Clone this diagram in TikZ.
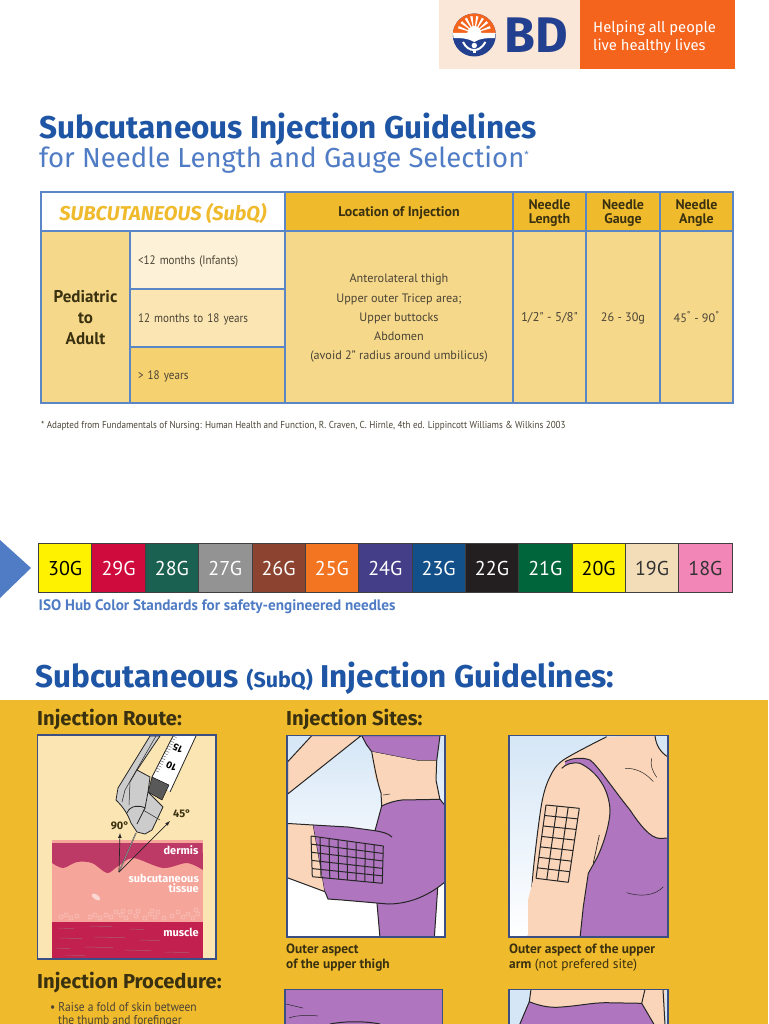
\documentclass[tikz,border=0pt]{standalone}
\usepackage{fontspec}
\setmainfont{Fira Sans}
\newfontfamily\narrowfont{PT Sans}
\newfontfamily\condfont[FakeStretch=0.9]{PT Sans}
\usetikzlibrary{calc}
\definecolor{bandgold}{HTML}{F0BA2D}
\definecolor{tblblue}{HTML}{5B86C6}
\definecolor{cellbody}{HTML}{F6D88B}
\definecolor{cellone}{HTML}{FDF2D7}
\definecolor{celltwo}{HTML}{FBE5B3}
\definecolor{cellthree}{HTML}{F5D16F}
\definecolor{titleblue}{HTML}{1F55A5}
\definecolor{subblue}{HTML}{4F7CC4}
\definecolor{bdorange}{HTML}{F4641D}
\definecolor{bdpeach}{HTML}{FBE7D8}
\definecolor{bdblue}{HTML}{22408F}
\definecolor{inkdark}{HTML}{3A3110}
\definecolor{bodyink}{HTML}{4A4436}
\definecolor{framblue}{HTML}{3B4F85}
\definecolor{skin}{HTML}{FBD5BA}
\definecolor{suit}{HTML}{AF75BF}
\definecolor{skyblue}{HTML}{D5E6F6}
\definecolor{dermis}{HTML}{BE3A66}
\definecolor{subtissue}{HTML}{F6A59A}
\definecolor{musclered}{HTML}{C2204F}
\definecolor{g30}{HTML}{FFF200}
\definecolor{g29}{HTML}{CF0A3C}
\definecolor{g28}{HTML}{1B6152}
\definecolor{g27}{HTML}{939393}
\definecolor{g26}{HTML}{8C4430}
\definecolor{g25}{HTML}{F47521}
\definecolor{g24}{HTML}{433E87}
\definecolor{g23}{HTML}{13508A}
\definecolor{g22}{HTML}{231F20}
\definecolor{g21}{HTML}{00653A}
\definecolor{g19}{HTML}{F2DDB8}
\definecolor{g18}{HTML}{F287B7}
\newcommand{\fsz}[1]{\fontsize{#1}{#1}\selectfont}
\tikzset{
  cell/.style={draw=tblblue,line width=2pt,outer sep=0pt,anchor=north west,inner sep=0pt,align=center,text=bodyink,text depth=0pt,font=\narrowfont\fsz{12.2}},
  headcell/.style={cell,fill=bandgold,text=inkdark,font=\narrowfont\bfseries\fsz{13.9}},
  rowcell/.style={cell,minimum width=155pt,minimum height=58pt,text width=139pt,align=left,font=\condfont\fsz{12.3}},
  gaugecell/.style={draw=black!75,line width=.8pt,outer sep=0pt,anchor=north west,minimum width=53.4pt,minimum height=49pt,inner sep=0pt,font=\narrowfont\fsz{20}},
  heading/.style={anchor=west,inner sep=0pt,text=inkdark,font=\bfseries\fsz{20.2}},
  caption/.style={anchor=west,inner sep=0pt,text=inkdark,font=\narrowfont\fsz{13.4}},
  outline/.style={draw=black!85,line width=1pt},
  framed/.style={draw=framblue,line width=1.3pt},
  arrowline/.style={draw=black!85,line width=.7pt,-latex},
  layerlabel/.style={inner sep=0pt,text=white,font=\bfseries\fsz{11}}
}
\begin{document}
\begin{tikzpicture}[x=1pt,y=-1pt]
  \useasboundingbox (0,0) rectangle (768,1024);
  \fill[white] (0,0) rectangle (768,1024);

  % logo
  \fill[bdpeach] (439,0) rectangle (580,69);
  \fill[bdorange] (580,0) rectangle (735,69);
  \fill[bdblue] (474.3,35) circle (21.5);
  \begin{scope}
    \clip (450,10) rectangle (500,33);
    \fill[bdorange] (474.3,35) circle (21.5);
    \foreach \a in {-160,-140,...,-20}
      \fill[white] (474.3,33) -- ++(\a-4:17) -- ++(\a+90:2.4) -- cycle;
    \fill[white] (474.3,33) circle (7);
  \end{scope}
  \fill[white] (453,33) -- (495.6,33) -- (495,38) .. controls (488,38) and (480,38) .. (474.3,42) .. controls (468,38) and (460,38) .. (453.5,38) -- cycle;
  \draw[white,line width=2pt] (463,42) .. controls (466,48) and (470,50) .. (474.3,50) .. controls (478,50) and (482,48) .. (485.5,42);
  \draw[white,line width=3pt] (474.3,49) -- (474.3,53);
  \fill[white] (474.3,45.5) circle (2.7);
  \node[inner sep=0pt,text=bdblue,font=\bfseries\fsz{50}] (bd) at (536,35.5) {BD};
  \node[anchor=west,inner sep=0pt,text=white,align=left,font=\fsz{14.8}] (motto) at (593,37) {Helping all people\\[3.5pt]live healthy lives};

  % titles
  \node[anchor=base west,inner sep=0pt,text=titleblue,font=\bfseries\fsz{31.5}] (title) at (39,139) {Subcutaneous Injection Guidelines};
  \node[anchor=base west,inner sep=0pt,text=subblue,font=\fsz{27.5}] (subtitle) at (39,168) {for Needle Length and Gauge Selection\raisebox{9pt}{\fsz{10}*}};

  % table
  \node[cell,minimum width=244pt,minimum height=39pt,fill=white,text=bandgold,font=\bfseries\itshape\fsz{20}] (subq) at (41,192) {SUBCUTANEOUS (SubQ)};
  \node[headcell,minimum width=228pt,minimum height=39pt] (location) at (285,192) {Location of Injection};
  \node[headcell,minimum width=73pt,minimum height=39pt] (length) at (513,192) {Needle\\[.2pt]Length};
  \node[headcell,minimum width=74pt,minimum height=39pt] (gauge) at (586,192) {Needle\\[.2pt]Gauge};
  \node[headcell,minimum width=73pt,minimum height=39pt] (angle) at (660,192) {Needle\\[.2pt]Angle};
  \node[cell,minimum width=89pt,minimum height=172pt,fill=cellbody,text=inkdark,font=\narrowfont\bfseries\fsz{17}] (pediatric) at (41,231) {Pediatric\\[4pt]to\\[4pt]Adult};
  \node[rowcell,fill=cellone] (infants) at (130,231) {<12 months (Infants)};
  \node[rowcell,fill=celltwo] (toddlers) at (130,289) {12 months to 18 years};
  \node[rowcell,fill=cellthree,minimum height=56pt] (adults) at (130,347) {> 18 years};
  \node[cell,fill=cellbody,minimum width=228pt,minimum height=172pt] (sites) at (285,231) {Anterolateral thigh\\[7pt]Upper outer Tricep area;\\[7pt]Upper buttocks\\[7pt]Abdomen\\[7pt](avoid 2” radius around umbilicus)};
  \node[cell,fill=cellbody,minimum width=73pt,minimum height=172pt,font=\narrowfont\fsz{12.8}] (lengthval) at (513,231) {1/2" - 5/8"};
  \node[cell,fill=cellbody,minimum width=74pt,minimum height=172pt] (gaugeval) at (586,231) {26 - 30g};
  \node[cell,fill=cellbody,minimum width=73pt,minimum height=172pt] (angleval) at (660,231) {45\textsuperscript{°} - 90\textsuperscript{°}};
  \node[anchor=west,inner sep=0pt,text=bodyink,font=\condfont\fsz{10.1}] (source) at (41,425.5) {* Adapted from Fundamentals of Nursing: Human Health and Function, R. Craven, C. Hirnle, 4th ed. Lippincott Williams \& Wilkins 2003};

  % gauge strip
  \fill[subblue] (0,540) -- (31,568) -- (0,598) -- cycle;
  \foreach \g/\col/\ink [count=\i from 0] in {30G/g30/black,29G/g29/white,28G/g28/white,27G/g27/white,26G/g26/white,25G/g25/white,24G/g24/white,23G/g23/white,22G/g22/white,21G/g21/white,20G/g30/black,19G/g19/black!80,18G/g18/black!80}
    \node[gaugecell,fill=\col,text=\ink] (hub\g) at (38.5+\i*53.35,543.5) {\g};
  \node[anchor=west,inner sep=0pt,text=subblue,font=\narrowfont\bfseries\fsz{15.2}] (iso) at (38.5,606.5) {ISO Hub Color Standards for safety-engineered needles};

  \node[anchor=base west,inner sep=0pt,text=titleblue,font=\bfseries\fsz{31.5}] (guide) at (35,687) {Subcutaneous {\fsz{21.5}(SubQ)} Injection Guidelines:};
  \fill[bandgold] (0,700) rectangle (768,1024);

  \node[heading] (route) at (37,720) {Injection Route:};
  \node[heading] (sitesh) at (286,720) {Injection Sites:};
  \node[heading] (proc) at (37,983) {Injection Procedure:};
  \node[anchor=north west,inner sep=0pt,text=bodyink,align=left,font=\condfont\fsz{12.8}] (bullet) at (50,1002) {• Raise a fold of skin between\\[.2pt]\hspace{8pt}the thumb and forefinger};

  % route panel
  \fill[celltwo] (37.5,735) rectangle (216,959);
  \fill[subtissue] (52,840) rectangle (202.6,923);
  \fill[dermis] (52,843) -- (202.6,843) -- plot[smooth] coordinates {(203,870) (187,863) (163,868) (133,858) (117,867) (107,873) (92,863) (77,862) (63,868) (52,863)} -- cycle;
  \foreach \x/\y in {61/917,66/915,71/918,77/916,90/917,95/915,100/918,106/915,111/917,116/912,121/915,126/918,123/911,130/912,136/916,138/911,145/918,150/914,155/917,152/911,158/912,164/918,172/916,178/912,183/917,188/914,193/918,198/914,196/910}
    \draw[subtissue!65!white,fill=subtissue!95!white,line width=.4pt] (\x,\y) circle (2.2);
  \fill[white!55!subtissue,rotate around={-35:(96,897)}] (96,897) ellipse (5 and 2.5);
  \fill[musclered] (52,922) rectangle (202.6,958);
  \foreach \x/\y/\w in {58/928/16,90/926/22,130/929/14,60/938/22,95/937/30,140/940/20,56/948/14,85/947/28,125/950/26,165/952/24,65/955/20}
    \draw[black!30!musclered!70,line width=.5pt] (\x,\y) -- ++(\w,.6);
  % syringe
  \fill[white] (173,736) -- (196,736) -- (170,792) -- (152,777) -- cycle;
  \draw[outline,line width=.8pt] (173,736) -- (152,777) (196,736) -- (170,792);
  \foreach \t in {0,.06,...,.85}
    \draw[black!70,line width=.35pt] ($(173,736)!\t!(152,777)$) -- ++(3.5,1.6);
  \node[inner sep=0pt,rotate=155,font=\bfseries\fsz{10}] (markb) at (178,748) {15};
  \node[inner sep=0pt,rotate=155,font=\bfseries\fsz{10}] (marka) at (171.5,766) {10};
  \fill[black!65,draw=black] (152,777) -- (169,785) -- (162,800) -- (148,792) -- cycle;
  \fill[black!20,outline,line width=.8pt] (150,736) -- (118,788) -- (116,800) .. controls (122,806) and (127,812) .. (131,823) -- (137,832) -- (145,834) -- (152,830) -- (163,807) -- (148,792) -- (150,777) -- (137,770) -- (160,736) -- cycle;
  \draw[outline,line width=.5pt] (156,736) -- (125,790) -- (122,802);
  \draw[outline,line width=.8pt] (127,813) .. controls (130,805) and (140,805) .. (145,808) -- (148,792);
  \draw[outline,line width=.5pt] (137,770) -- (130,782) -- (129,805);
  \draw[outline,line width=.8pt] (145,808) -- (137,824);
  \draw[outline,line width=.5pt] (143,810) -- (160,820);
  \coordinate (tip) at (119,872);
  \coordinate (hubend) at (136,833);
  \coordinate (up) at (120,833);
  \coordinate (diag) at (170,821);
  \draw[black!70,line width=1.2pt] (tip) -- (hubend);
  \draw[white!70!black,line width=.4pt] (tip) -- (hubend);
  \draw[arrowline] (tip) -- (up);
  \draw[arrowline] (tip) -- (diag);
  \node[inner sep=0pt,text=inkdark,font=\bfseries\fsz{11}] (ninety) at (120,825.5) {90°};
  \node[inner sep=0pt,text=inkdark,font=\bfseries\fsz{11}] (fortyfive) at (182,814) {45°};
  \node[layerlabel] (dermislbl) at (181,850) {dermis};
  \node[layerlabel,anchor=east,align=right] (tissuelbl) at (199,883) {subcutaneous\\[-1pt]tissue};
  \node[layerlabel] (musclelbl) at (181,932.5) {muscle};
  \draw[framed] (37.5,735) rectangle (216,959);

  % thigh panel
  \begin{scope}
    \clip (287,735.7) rectangle (445,937);
    \fill[white] (287,735) rectangle (445,937);
    \shade[top color=skyblue,bottom color=white] (287,735) rectangle (445,890);
    \fill[skin,outline] (287.7,761.7) -- (311.7,735.7) -- (361,735.7) -- (287.7,794) -- cycle;
    \fill[suit,outline] (361.7,735.7) -- (440,735.7) -- (436.7,760.7) -- (418,760.7) -- (371.7,751.7) -- (366.7,745) -- cycle;
    \fill[skin] (371.7,751.7) -- (418,760.7) -- (436.7,760.7) -- (436,780) -- (440,800) -- (401.7,800) -- (381.7,806) -- (381,793) -- (375,777) -- cycle;
    \draw[outline] (371.7,751.7) .. controls (374,765) and (378,785) .. (381,793) -- (381.7,806);
    \draw[outline] (436.7,760.7) -- (436,780) -- (440,800);
    \draw[outline,line width=.5pt] (383,795) -- (390,794);
    \fill[suit,outline] (376.7,900) -- (380,938) -- (434.3,938) -- (437.7,888) -- cycle;
    \fill[skin,outline] (280,823) -- (313.3,825) -- (325,891.7) -- (280,875) -- cycle;
    \fill[suit] (313.3,825) -- (348,827) -- (375,830.7) -- (381.7,806) .. controls (390,802) and (395,801) .. (401.7,800) -- (440,799.3) -- (446,806.7) -- (446,881) .. controls (430,895) and (410,904) .. (388,904) -- (342,900) -- (328,899) -- (325,891.7) -- cycle;
    \draw[outline] (325,891.7) -- (328,899) -- (342,900) -- (388,904) .. controls (410,904) and (430,895) .. (446,881);
    \draw[outline] (313.3,825) -- (348,827) -- (375,830.7) .. controls (382,832) and (388,833) .. (392,837);
    \draw[outline] (375,830.7) -- (381.7,806) .. controls (390,802) and (395,801) .. (401.7,800) -- (440,799.3) -- (446,806.7);
    \coordinate (ga) at (311,836);
    \coordinate (gb) at (383.3,846);
    \coordinate (gc) at (382.3,883.3);
    \coordinate (gd) at (312.3,876.7);
    \foreach \t in {0,.125,...,1.01}
      \draw[outline] ($(ga)!\t!(gb)$) -- ($(gd)!\t!(gc)$);
    \foreach \t in {0,.2,...,1.01}
      \draw[outline] ($(ga)!\t!(gd)$) -- ($(gb)!\t!(gc)$);
  \end{scope}
  \draw[framed] (287,735.7) rectangle (445,937);

  % arm panel
  \begin{scope}
    \clip (509,735.7) rectangle (668,937);
    \fill[white] (509,735) rectangle (668,937);
    \shade[top color=skyblue,bottom color=white] (509,735) rectangle (668,937);
    \fill[skin] plot[smooth] coordinates {(528.3,938) (533.3,870) (541.7,803.3) (550,776.7) (563.3,760) (606.7,736.7)} -- (655,735.7) -- (656.7,745) -- (668,757) -- (668,938) -- cycle;
    \draw[outline] plot[smooth] coordinates {(528.3,938) (533.3,870) (541.7,803.3) (550,776.7) (563.3,760) (606.7,736.7)};
    \draw[outline] (655,735.7) .. controls (656,745) and (660,752) .. (668,757);
    \fill[suit] (565,761.7) .. controls (572,758) and (582,757) .. (590,760) .. controls (598,766) and (610,785) .. (630,810) .. controls (640,825) and (650,838) .. (660,838.5) -- (668,838) -- (668,938) -- (580,938) -- cycle;
    \draw[outline] (565,761.7) .. controls (572,758) and (582,757) .. (590,760) .. controls (598,766) and (610,785) .. (630,810) .. controls (640,825) and (650,838) .. (660,838.5) -- (668,838);
    \fill[skin] (580,938) -- (583.3,906.7) -- (588.3,873.3) -- (596.7,858.3) .. controls (602,848) and (610,825) .. (610,810) .. controls (609,790) and (598,772) .. (580,763.3) .. controls (572,762) and (566,764) .. (561.7,768.3) -- (528,900) -- (528,938) -- cycle;
    \draw[outline] (580,938) -- (583.3,906.7) -- (588.3,873.3) -- (596.7,858.3) .. controls (602,848) and (610,825) .. (610,810) .. controls (609,790) and (598,772) .. (580,763.3) .. controls (572,762) and (566,764) .. (561.7,768.3);
    \draw[outline,line width=.7pt] (599.3,835) -- (593.3,863);
    \draw[outline,line width=.5pt] (625,768.3) .. controls (635,768) and (645,772) .. (653.3,781.7);
    \draw[outline,line width=.5pt] (651.7,758.3) .. controls (650,765) and (652,770) .. (656.7,777.3);
    \draw[outline,line width=.5pt] (626.7,892.7) .. controls (640,897) and (655,896) .. (663.3,886.7);
    \coordinate (ha) at (546,805);
    \coordinate (hb) at (579.3,808.3);
    \coordinate (hc) at (568.3,882.3);
    \coordinate (hd) at (536,878.3);
    \foreach \t in {0,.333,.667,1}
      \draw[outline] ($(ha)!\t!(hb)$) -- ($(hd)!\t!(hc)$);
    \foreach \t in {0,.143,.286,.429,.571,.714,.857,1}
      \draw[outline] ($(ha)!\t!(hd)$) -- ($(hb)!\t!(hc)$);
  \end{scope}
  \draw[framed] (509,735.7) rectangle (668,937);

  % captions
  \node[caption,font=\narrowfont\bfseries\fsz{13.4}] (capa) at (286,950) {Outer aspect};
  \node[caption,font=\narrowfont\bfseries\fsz{13.4}] (capb) at (286,965) {of the upper thigh};
  \node[caption,font=\narrowfont\bfseries\fsz{13.4}] (capc) at (509,950) {Outer aspect of the upper};
  \node[caption] (capd) at (509,965) {\textbf{arm} (not prefered site)};

  % lower panels, cut by the page
  \fill[suit] (285,989.3) rectangle (442.7,1025);
  \draw[outline,line width=.5pt] (286,1004) -- (303,1008);
  \draw[outline,line width=.5pt] (289,1018) .. controls (296,1015) and (310,1015) .. (318,1016);
  \draw[outline] (330,1024) .. controls (345,1021) and (365,1021) .. (380,1024);
  \draw[framed] (285,1030) -- (285,989.3) -- (442.7,989.3) -- (442.7,1030);
  \fill[skyblue] (509,989.3) rectangle (668,1025);
  \fill[skin] (531,989.3) -- (529.3,1001.7) -- (520,1025) -- (653,1025) -- (665,1025) -- (665,989.3) -- cycle;
  \fill[suit,outline] (529.3,1001.7) .. controls (540,1006) and (548,1007.3) .. (556.7,1007.3) .. controls (580,1006) and (590,1002.7) .. (606.7,1002.7) -- (641.7,1003.3) -- (655,1026) -- (519,1026) -- cycle;
  \draw[outline] (531,989.3) -- (529.3,1001.7) (645,989.3) -- (641.7,1003.3) (663,989.3) -- (665,1025);
  \draw[framed] (509,1030) -- (509,989.3) -- (668,989.3) -- (668,1030);
\end{tikzpicture}
\end{document}
